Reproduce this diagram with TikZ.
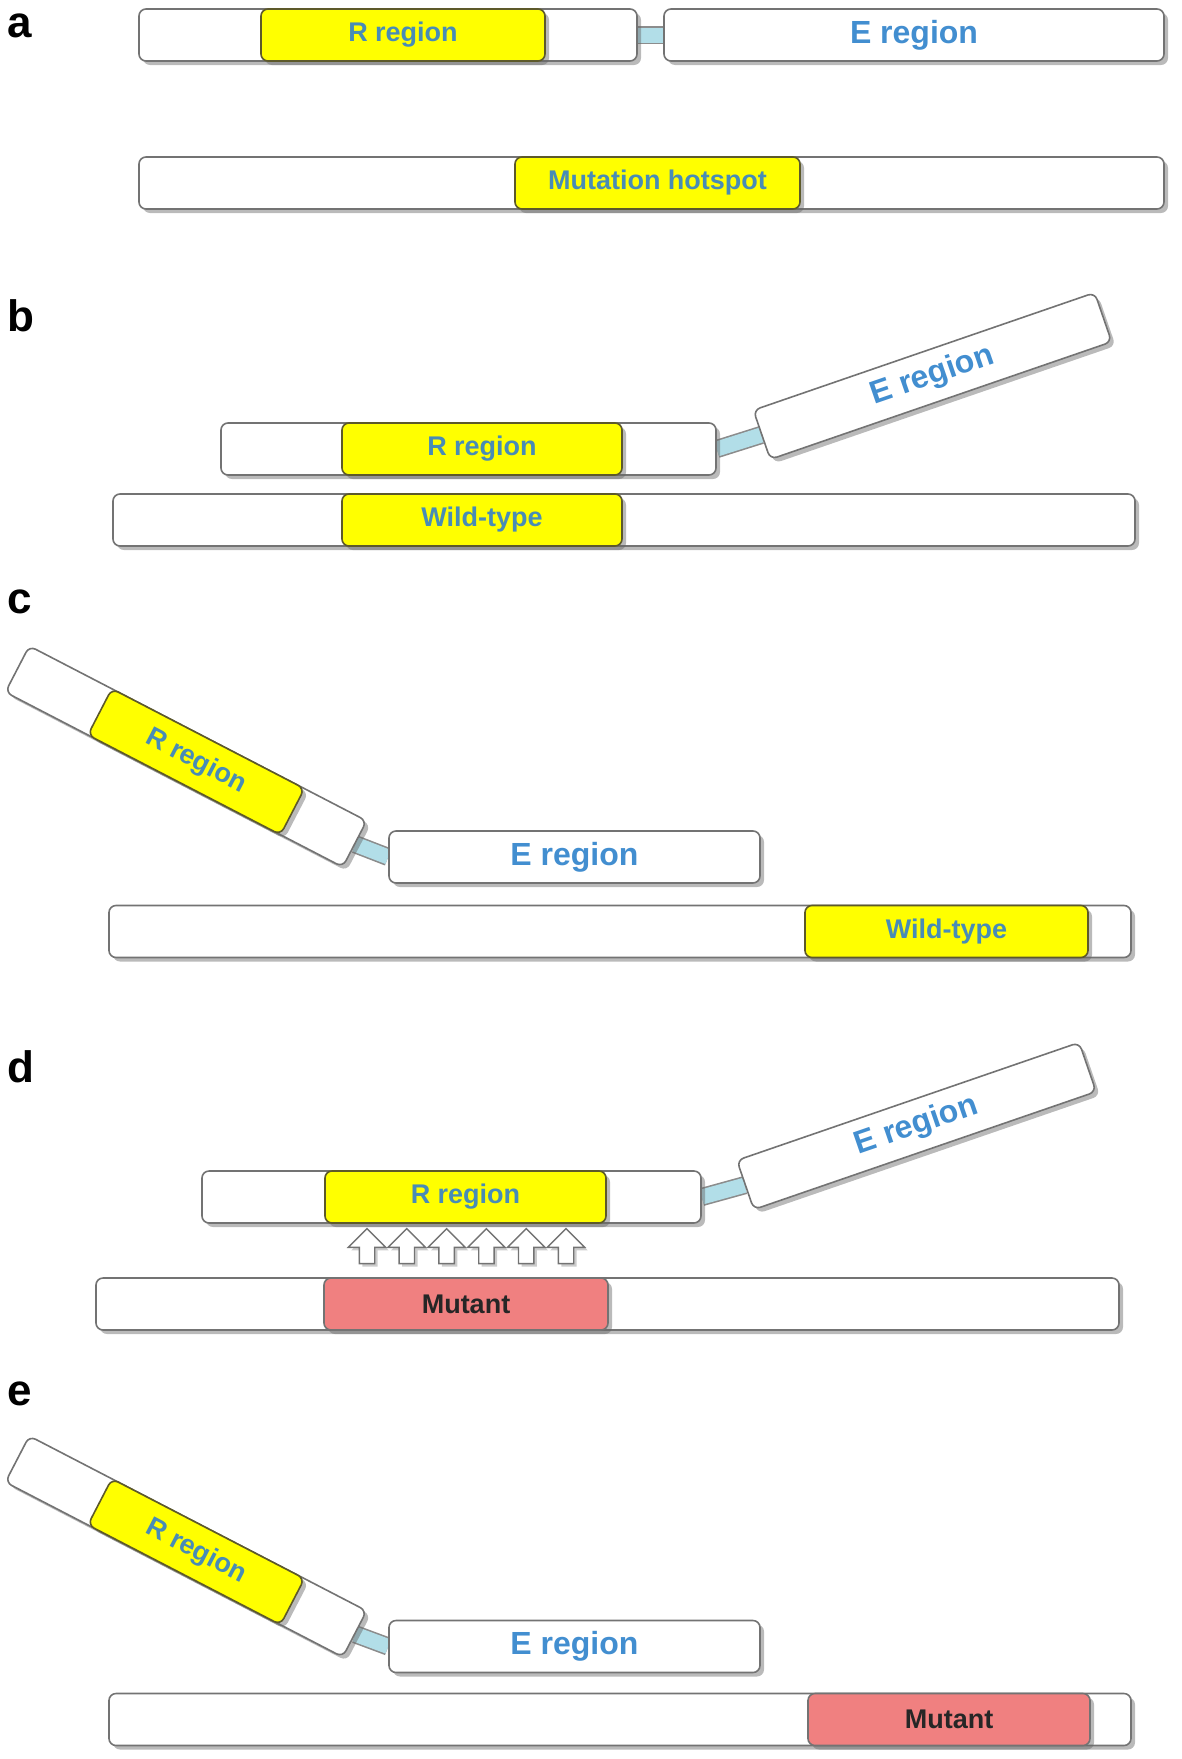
\documentclass[tikz,border=0pt]{standalone}
\usepackage{fontspec}
\setmainfont{Liberation Sans}
\usetikzlibrary{shadows,shapes.arrows,backgrounds,calc}

\definecolor{txtblue}{RGB}{66,142,208}
\definecolor{txtteal}{RGB}{72,140,182}
\definecolor{hotyellow}{RGB}{255,255,0}
\definecolor{mutred}{RGB}{240,128,128}
\definecolor{tube}{RGB}{178,222,232}

\tikzset{
  bar/.style={draw=black!55, line width=1.6pt, fill=white, rounded corners=7pt,
    minimum height=52pt, inner sep=0pt,
    drop shadow={shadow xshift=4pt, shadow yshift=-4pt, opacity=0.45, fill=black!60}},
  ebar/.style={bar, text=txtblue, font=\bfseries\fontsize{32}{36}\selectfont},
  yel/.style={bar, fill=hotyellow, draw=olive!55!black,
    text=txtteal, font=\bfseries\fontsize{27}{30}\selectfont},
  mut/.style={bar, fill=mutred, draw=black!55,
    text=black!85, font=\bfseries\fontsize{27}{30}\selectfont},
  linker/.style={draw=black!45, line width=1.6pt, double=tube, double distance=15pt},
  uparrow/.style={single arrow, rotate=90, draw=black!55, fill=white, line width=1.4pt,
    minimum height=35pt, inner sep=7pt, single arrow head extend=11pt,
    drop shadow={shadow xshift=3pt, shadow yshift=-3pt, opacity=0.4}},
  panel/.style={font=\bfseries\fontsize{44}{48}\selectfont, anchor=base west, inner sep=0pt}
}

\begin{document}
\begin{tikzpicture}[x=1pt, y=-1pt]
  \useasboundingbox (0,0) rectangle (1181,1759);

  % a
  \node[panel] (la) at (7,37) {a};
  \node[bar, minimum width=498pt] (rbarA) at (388,35) {};
  \node[yel, minimum width=284pt] (ryA) at (403,35) {R region};
  \node[ebar, minimum width=500pt] (ebarA) at (914,35) {E region};
  \node[bar, minimum width=1025pt] (gA) at (651.5,183) {};
  \node[yel, minimum width=285pt] (hotA) at (657.5,183) {Mutation hotspot};

  % b
  \node[panel] (lb) at (7,331) {b};
  \node[bar, minimum width=495pt] (rbarB) at (468.5,449) {};
  \node[yel, minimum width=280pt] (ryB) at (482,449) {R region};
  \node[ebar, minimum width=361pt, rotate=19] (ebarB) at (932.5,376) {E region};
  \node[bar, minimum width=1022pt] (gB) at (624,520) {};
  \node[yel, minimum width=280pt] (wtB) at (482,520) {Wild-type};

  % c
  \node[panel] (lc) at (7,613) {c};
  \node[bar, minimum width=380pt, rotate=-27.4] (rbarC) at (186,756.5) {};
  \node[yel, minimum width=217pt, rotate=-27.4] (ryC)
    at ($(rbarC.west)!0.53!(rbarC.east)$) {R region};
  \node[ebar, minimum width=371pt] (ebarC) at (574.5,857) {E region};
  \node[bar, minimum width=1022pt] (gC) at (620,931.5) {};
  \node[yel, minimum width=283pt] (wtC) at (946.5,931.5) {Wild-type};

  % d
  \node[panel] (ld) at (7,1082) {d};
  \node[bar, minimum width=499pt] (rbarD) at (451.5,1197) {};
  \node[yel, minimum width=281pt] (ryD) at (465.5,1197) {R region};
  \node[ebar, minimum width=362pt, rotate=19] (ebarD) at (916.5,1126) {E region};
  \foreach \i in {0,...,5}
    \node[uparrow] (arr\i) at (367+39.8*\i,1250) {};
  \node[bar, minimum width=1023pt] (gD) at (607.5,1304) {};
  \node[mut, minimum width=284pt] (mtD) at (466,1304) {Mutant};

  % e
  \node[panel] (le) at (7,1405) {e};
  \node[bar, minimum width=380pt, rotate=-27.4] (rbarE) at (186,1546.5) {};
  \node[yel, minimum width=217pt, rotate=-27.4] (ryE)
    at ($(rbarE.west)!0.53!(rbarE.east)$) {R region};
  \node[ebar, minimum width=371pt] (ebarE) at (574.5,1646.5) {E region};
  \node[bar, minimum width=1022pt] (gE) at (620,1719.5) {};
  \node[mut, minimum width=282pt] (mtE) at (949,1719.5) {Mutant};

  % linkers
  \begin{pgfonlayer}{background}
    \draw[linker] (rbarA.east) -- (ebarA.west);
    \draw[linker] (rbarB.east) -- (ebarB.west);
    \draw[linker] (rbarC.east) -- (ebarC.west);
    \draw[linker] (rbarD.east) -- (ebarD.west);
    \draw[linker] (rbarE.east) -- (ebarE.west);
  \end{pgfonlayer}
\end{tikzpicture}
\end{document}
